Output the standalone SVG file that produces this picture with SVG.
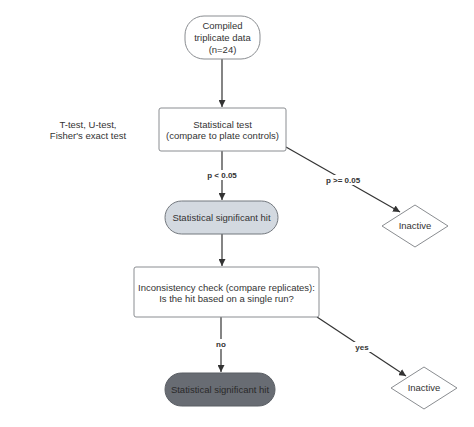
<svg xmlns="http://www.w3.org/2000/svg" width="474" height="427" viewBox="0 0 474 427">
<defs>
<marker id="arr" viewBox="0 0 10 10" refX="10" refY="5" markerWidth="7" markerHeight="7" markerUnits="userSpaceOnUse" orient="auto">
<path d="M0,0 L10,5 L0,10 Z" fill="#333"/>
</marker>
<style>
.t{font-family:"Liberation Sans",Arial,sans-serif;font-size:9.5px;fill:#333;text-anchor:middle;dominant-baseline:central}
.l{font-family:"Liberation Sans",Arial,sans-serif;font-size:8px;font-weight:bold;fill:#333;text-anchor:middle;dominant-baseline:central}
.box{fill:#fff;stroke:#8a8d91;stroke-width:1}
.c{stroke:#333;stroke-width:1.2;fill:none;marker-end:url(#arr)}
.lb{fill:#fff}
</style>
</defs>
<rect width="474" height="427" fill="#fff"/>
<g id="connectors">
<path class="c" d="M222,59 L222,107"/>
<path class="c" d="M222,151 L222,200"/>
<path class="c" d="M286,147 L400,212"/>
<path class="c" d="M222,234 L222,266"/>
<path class="c" d="M221,317 L221,372"/>
<path class="c" d="M317,317 L406,376"/>
<rect class="lb" x="205" y="170" width="34" height="10"/>
<text class="l" x="222" y="175">p &lt; 0.05</text>
<rect class="lb" x="326" y="175" width="36" height="10"/>
<text class="l" x="343" y="180">p &gt;= 0.05</text>
<rect class="lb" x="213" y="339" width="16" height="10"/>
<text class="l" x="221" y="344">no</text>
<rect class="lb" x="352" y="342" width="20" height="10"/>
<text class="l" x="362" y="347">yes</text>
</g>
<g id="start">
<rect class="box" x="185" y="16" width="75" height="43" rx="19"/>
<text class="t" x="222.5" y="25">Compiled</text>
<text class="t" x="222.5" y="37">triplicate data</text>
<text class="t" x="222.5" y="49">(n=24)</text>
</g>
<g id="note">
<text class="t" x="88" y="124">T-test, U-test,</text>
<text class="t" x="88" y="135">Fisher's exact test</text>
</g>
<g id="stattest">
<rect class="box" x="159" y="108" width="127" height="43" rx="2"/>
<text class="t" x="222.5" y="124">Statistical test</text>
<text class="t" x="222.5" y="135">(compare to plate controls)</text>
</g>
<g id="hit1">
<rect x="165" y="201" width="113" height="33" rx="16.5" fill="#d3d9e0" stroke="#73787e" stroke-width="1"/>
<text class="t" x="221.5" y="217.5">Statistical significant hit</text>
</g>
<g id="inactive1">
<polygon points="382,226 415,205 448,226 415,247" fill="#fff" stroke="#8a8d91" stroke-width="1"/>
<text class="t" x="415" y="225">Inactive</text>
</g>
<g id="check">
<rect class="box" x="134" y="267" width="185" height="50" rx="2"/>
<text class="t" x="226.5" y="287">Inconsistency check (compare replicates):</text>
<text class="t" x="226.5" y="298">Is the hit based on a single run?</text>
</g>
<g id="hit2">
<rect x="165" y="373" width="110" height="33" rx="16.5" fill="#686c73" stroke="#5a5e64" stroke-width="1"/>
<text class="t" x="220" y="389.5" style="fill:#2a2a2a">Statistical significant hit</text>
</g>
<g id="inactive2">
<polygon points="391,388 424,367 457,388 424,409" fill="#fff" stroke="#8a8d91" stroke-width="1"/>
<text class="t" x="424" y="387">Inactive</text>
</g>
</svg>
